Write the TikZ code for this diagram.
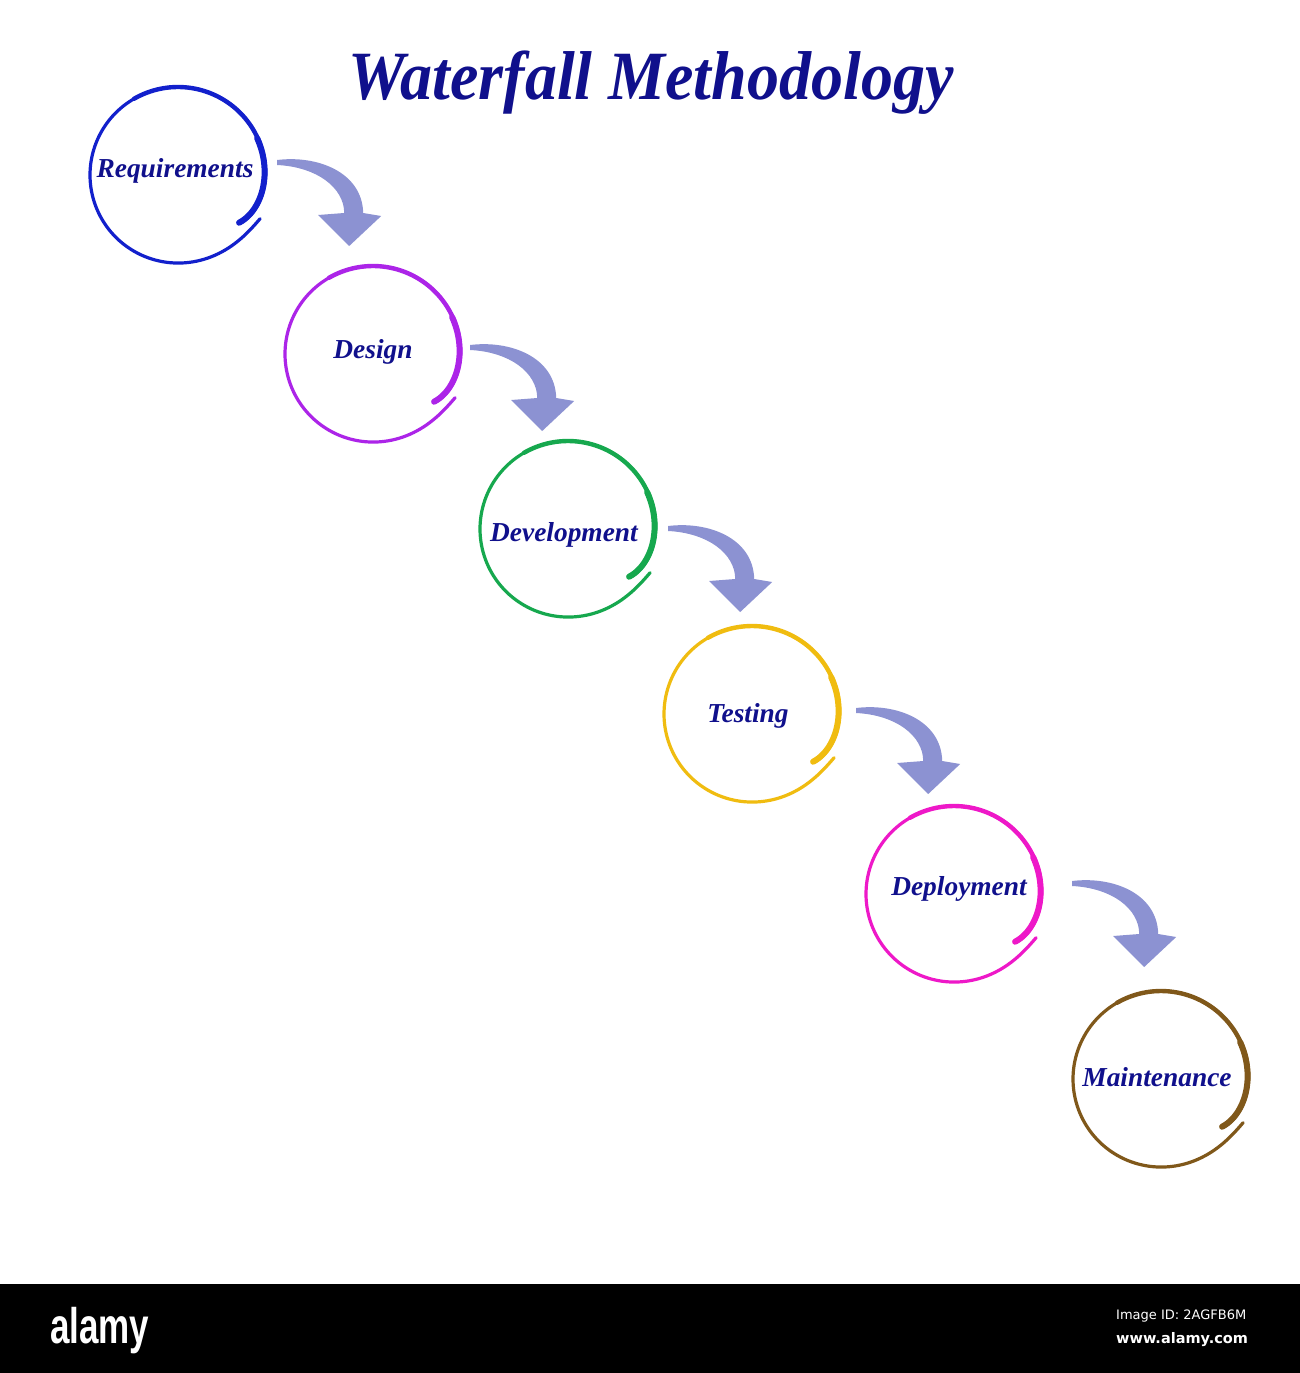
\documentclass[tikz,border=0pt]{standalone}
\usepackage{fontspec}
\setmainfont{Liberation Serif}
\newfontfamily\brandfont{Liberation Sans}
\newfontfamily\wmfont{DejaVu Sans}
\usetikzlibrary{calc}
\definecolor{WFBlue}{RGB}{18,32,204}
\definecolor{WFPurple}{RGB}{172,36,232}
\definecolor{WFGreen}{RGB}{22,168,78}
\definecolor{WFYellow}{RGB}{240,188,16}
\definecolor{WFMagenta}{RGB}{238,24,200}
\definecolor{WFBrown}{RGB}{128,88,26}
\definecolor{WFArrow}{RGB}{140,146,210}
\definecolor{WFText}{RGB}{16,16,140}

\tikzset{
  stage/.style={circle, minimum size=176pt, inner sep=0pt},
  stagetext/.style={font=\bfseries\itshape\fontsize{27.4}{30}\selectfont, text=WFText, anchor=base, inner sep=0pt},
  brush/.style={line cap=round, line join=round},
  flowarrow/.pic={
    \fill[WFArrow] (0,-2) .. controls (40,-7) and (85,10) .. (86,51) -- (104,54) -- (72,84) -- (41,53) -- (67,51) .. controls (67,26) and (40,5) .. (0,3) -- cycle;
  }
}

\begin{document}
\begin{tikzpicture}[x=1pt, y=-1pt]
\useasboundingbox (0,0) rectangle (1300,1373);
\fill[white] (0,0) rectangle (1300,1373); % background

\node[font=\bfseries\itshape\fontsize{64}{70}\selectfont, text=WFText, anchor=base, inner sep=0pt] (title) at (651,99) {\scalebox{1}[1.08]{Waterfall Methodology}};

% stages (circle centres)
\node[stage] (req) at (178,175) {};
\node[stage] (des) at (373,354) {};
\node[stage] (dev) at (568,529) {};
\node[stage] (tst) at (752,714) {};
\node[stage] (dep) at (954,894) {};
\node[stage] (mnt) at (1161,1079) {};

% stage names
\node[stagetext] (reqtext) at (175,177) {Requirements};
\node[stagetext] (destext) at (373,358) {Design};
\node[stagetext] (devtext) at (564,541) {Development};
\node[stagetext] (tsttext) at (748,722) {Testing};
\node[stagetext] (deptext) at (959,895) {Deployment};
\node[stagetext] (mnttext) at (1157,1086) {Maintenance};

% brush circles: radius grows from 78 (start) to 93 (tail); y points down, so angle is negated
\foreach \n/\c in {req/WFBlue, des/WFPurple, dev/WFGreen, tst/WFYellow, dep/WFMagenta, mnt/WFBrown}
{
 \draw[brush, \c, line width=3.2pt, shift={(\n.center)}] plot[domain=-38:332, samples=150] ({-(\x)}:{88-10*exp(-((\x)+38)/16)+5*exp(-(332-(\x))/14)});
 \draw[brush, \c, line width=4.4pt, shift={(\n.center)}] plot[domain=-38:120, samples=70] ({-(\x)}:{88-10*exp(-((\x)+38)/16)});
 \draw[brush, \c, line width=6pt, shift={(\n.center)}] plot[domain=-38:25, samples=30] ({-(\x)}:{87.5-10*exp(-((\x)+38)/16)});
}

% arrows to the next stage
\foreach \n/\dx/\dy in {req/11/-13, des/9/-7, dev/12/-1, tst/16/-4, dep/30/-11}
 \pic at ($(\n.east)+(\dx,\dy)$) {flowarrow};

% stock bar
\fill[black] (0,1284) rectangle (1300,1373);
\node[anchor=base west, text=white, font=\brandfont\bfseries\fontsize{50}{55}\selectfont, inner sep=0pt] (brand) at (50,1343) {\scalebox{0.7}[1]{alamy}};
\node[anchor=base west, text=white, font=\wmfont\fontsize{13}{15}\selectfont, inner sep=0pt] (imgid) at (1116,1319) {Image ID: 2AGFB6M};
\node[anchor=base west, text=white, font=\wmfont\bfseries\fontsize{14.5}{16}\selectfont, inner sep=0pt] (site) at (1116,1343) {www.alamy.com};
\end{tikzpicture}
\end{document}
